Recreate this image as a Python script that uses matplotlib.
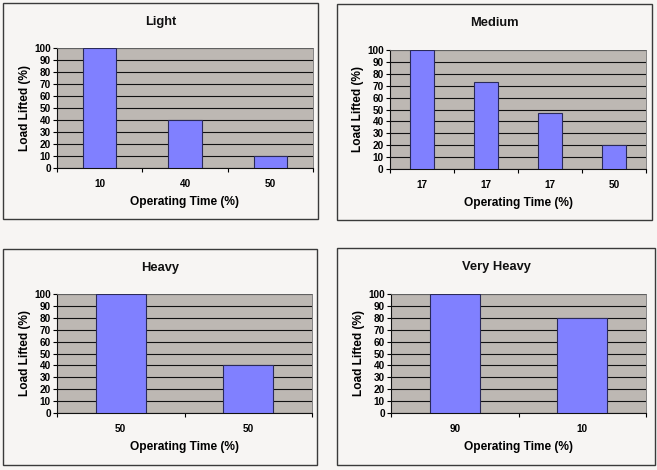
import matplotlib
matplotlib.use("Agg")
import matplotlib.pyplot as plt
from matplotlib.patches import Rectangle
import numpy as np

plt.rcParams['font.family'] = ['Liberation Sans', 'DejaVu Sans']

titles = ["Light", "Medium", "Heavy", "Very Heavy"]
light_labels = ["10", "40", "50"]
light_values = [100, 40, 10]
medium_labels = ["17", "17", "17", "50"]
medium_values = [100, 73, 47, 20]
heavy_labels = ["50", "50"]
heavy_values = [100, 40]
vheavy_labels = ["90", "10"]
vheavy_values = [100, 80]
y_ticks = list(range(0, 101, 10))

datasets = [(light_labels, light_values), (medium_labels, medium_values),
            (heavy_labels, heavy_values), (vheavy_labels, vheavy_values)]

W, H = 657, 470
fig = plt.figure(figsize=(6.57, 4.70), dpi=100)
fig.patch.set_facecolor("#f7f5f3")

# axes rects in pixels: (x0, y0_top, x1, y1_bottom)
ax_px = [(57, 48, 313, 168), (390, 50, 646, 169), (57, 294, 312, 413), (391, 294, 646, 413)]
box_px = [(3, 3, 318, 219), (337, 4, 652, 220), (3, 249, 317, 465), (337, 248, 655, 465)]
title_y = [22, 23, 268, 267]

for i, ((labels, values), title) in enumerate(zip(datasets, titles)):
    bx0, by0, bx1, by1 = box_px[i]
    fig.patches.append(Rectangle((bx0 / W, 1 - by1 / H), (bx1 - bx0) / W, (by1 - by0) / H,
                                 transform=fig.transFigure, facecolor="none",
                                 edgecolor="#3a3a3a", linewidth=1.0, zorder=0))
    fig.text((bx0 + bx1) / 2 / W, 1 - title_y[i] / H, title, ha="center", va="center",
             fontsize=9.3, fontweight="bold", color="#111111")
    x0, y0, x1, y1 = ax_px[i]
    ax = fig.add_axes([x0 / W, 1 - y1 / H, (x1 - x0) / W, (y1 - y0) / H])
    ax.set_facecolor("#bdb8b3")
    n = len(values)
    x = np.arange(n)
    ax.bar(x, values, width=0.39, color="#8080ff", edgecolor="#2a2a5a", linewidth=0.8, zorder=3)
    ax.set_xlim(-0.5, n - 0.5)
    ax.set_ylim(0, 100)
    ax.set_yticks(y_ticks)
    ax.set_yticklabels([str(t) for t in y_ticks], fontsize=7.2, fontweight="bold")
    ax.set_xticks(x)
    ax.set_xticklabels(labels, fontsize=7.2, fontweight="bold")
    ax.set_xticks(np.arange(n + 1) - 0.5, minor=True)
    ax.tick_params(axis="x", which="major", length=0, pad=8)
    ax.tick_params(axis="x", which="minor", length=3, width=0.8, direction="out")
    ax.tick_params(axis="y", length=3, width=0.8, pad=1.5)
    ax.yaxis.grid(True, color="#111111", linewidth=0.8, zorder=1)
    ax.set_axisbelow(True)
    for s in ["top", "right"]:
        ax.spines[s].set_color("#707070")
        ax.spines[s].set_linewidth(0.6)
    ax.spines["left"].set_color("#111111")
    ax.spines["bottom"].set_color("#111111")
    ax.set_xlabel("Operating Time (%)", fontsize=8.6, fontweight="bold", labelpad=5)
    ax.set_ylabel("Load Lifted (%)", fontsize=8.6, fontweight="bold", labelpad=2)

fig.savefig("out.png", dpi=100, facecolor=fig.get_facecolor())
